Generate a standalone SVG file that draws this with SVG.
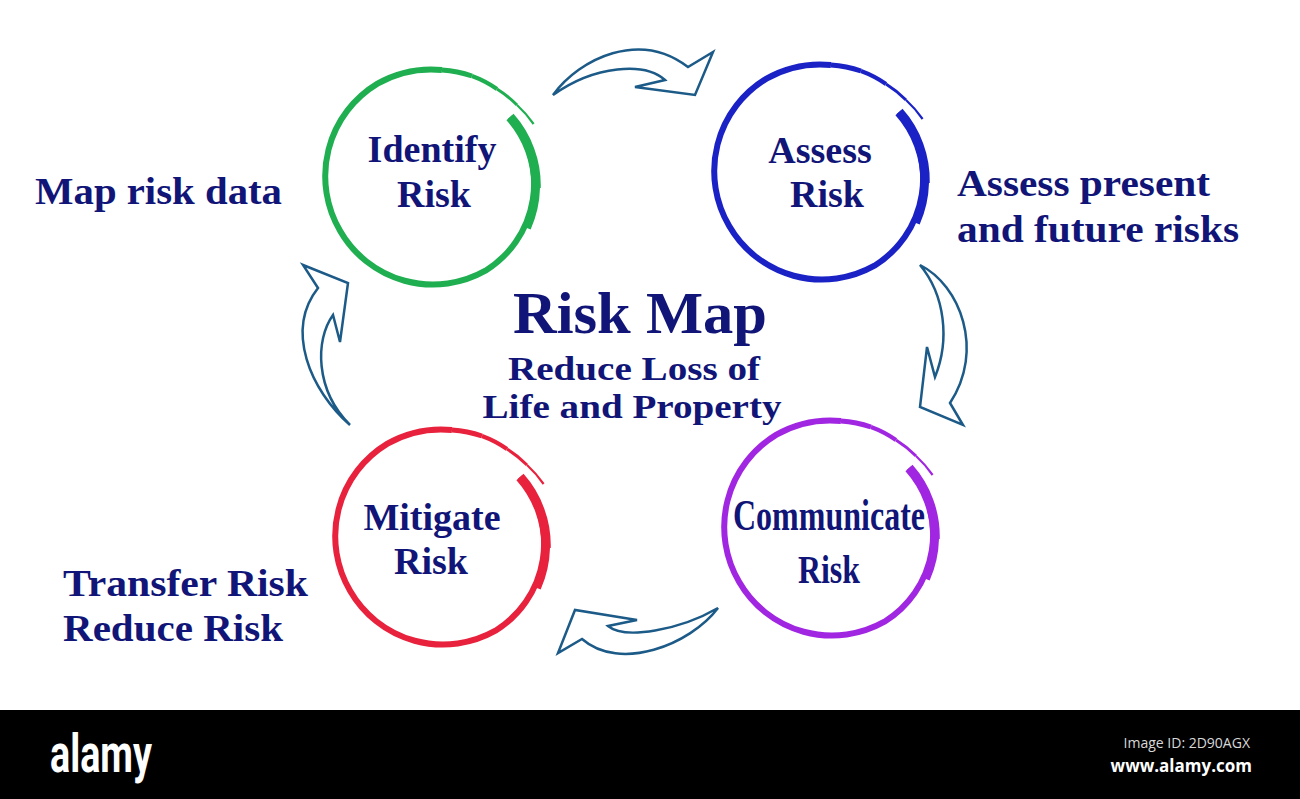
<svg xmlns="http://www.w3.org/2000/svg" xmlns:xlink="http://www.w3.org/1999/xlink" width="1300" height="799" viewBox="0 0 1300 799">
<style>
.lbl{font-family:"Liberation Serif","Times New Roman",serif;font-weight:bold;fill:#111577}
.c{text-anchor:middle}
.arr{fill:#ffffff;stroke:#1c5a88;stroke-width:2.5;stroke-linejoin:miter}
.ring{fill:none;stroke-linecap:butt}
</style>
<defs>
<g id="ring">
<path class="ring" stroke-width="6" d="M78,-61 A103,103 0 0 1 53.5,92.7 A107,107 0 0 1 -91.8,53 A108,108 0 0 1 -54.5,-94.4 A110,110 0 0 1 10,-108"/>
<path class="ring" stroke-width="5" d="M10,-108 A110,110 0 0 1 40,-102"/>
<path class="ring" stroke-width="4" d="M40,-102 A111,111 0 0 1 65,-89"/>
<path class="ring" stroke-width="3" d="M65,-89 A113,113 0 0 1 85,-73"/>
<path class="ring" stroke-width="2.2" d="M85,-73 A114,114 0 0 1 101.6,-54"/>
<path class="ring" stroke-width="9.5" d="M78,-61 A103,103 0 0 1 104,10"/>
<path class="ring" stroke-width="8" d="M104,10 A105,105 0 0 1 95,50"/>
</g>
</defs>
<rect width="1300" height="799" fill="#ffffff"/>
<g id="connectors">
<path class="arr" d="M553,95 C580,58 640,30 688,67 L713,52 L695,95 L635,87 L665,80 C645,62 595,65 553,95 Z"/>
<path class="arr" d="M920,265 C960,285 985,350 950,403 L963,425 L920,407 L927,347 L935,377 C950,340 945,295 920,265 Z"/>
<path class="arr" d="M718,608 C690,645 620,672 582,639 L558,653 L575,610 L637,620 L608,626 C625,640 680,630 718,608 Z"/>
<path class="arr" d="M350,425 C310,390 285,330 318,288 L303,265 L348,283 L340,342 L333,315 C315,340 315,390 350,425 Z"/>
</g>
<g id="identify">
<use xlink:href="#ring" href="#ring" transform="translate(432,178)" stroke="#1fae50"/>
<text class="lbl c" x="432" y="162" font-size="38">Identify</text>
<text class="lbl c" x="434" y="207" font-size="38">Risk</text>
</g>
<g id="assess">
<use xlink:href="#ring" href="#ring" transform="translate(821,173)" stroke="#1a22c6"/>
<text class="lbl c" x="820" y="163" font-size="38">Assess</text>
<text class="lbl c" x="827" y="207" font-size="38">Risk</text>
</g>
<g id="mitigate">
<use xlink:href="#ring" href="#ring" transform="translate(442,538)" stroke="#e8213c"/>
<text class="lbl c" x="432" y="530" font-size="38">Mitigate</text>
<text class="lbl c" x="431" y="574" font-size="38">Risk</text>
</g>
<g id="communicate">
<use xlink:href="#ring" href="#ring" transform="translate(831,529)" stroke="#a126e2"/>
<text class="lbl c" x="829" y="530" font-size="45" textLength="192" lengthAdjust="spacingAndGlyphs">Communicate</text>
<text class="lbl c" x="829" y="583" font-size="40" textLength="62" lengthAdjust="spacingAndGlyphs">Risk</text>
</g>
<g id="center">
<text class="lbl c" x="640" y="333" font-size="60" textLength="254" lengthAdjust="spacingAndGlyphs">Risk Map</text>
<text class="lbl c" x="634" y="380" font-size="34" textLength="252" lengthAdjust="spacingAndGlyphs">Reduce Loss of</text>
<text class="lbl c" x="632" y="418" font-size="34" textLength="299" lengthAdjust="spacingAndGlyphs">Life and Property</text>
</g>
<g id="side-labels">
<text class="lbl" x="35" y="204" font-size="38" textLength="247" lengthAdjust="spacingAndGlyphs">Map risk data</text>
<text class="lbl" x="957" y="196" font-size="38" textLength="253" lengthAdjust="spacingAndGlyphs">Assess present</text>
<text class="lbl" x="957" y="242" font-size="38" textLength="282" lengthAdjust="spacingAndGlyphs">and future risks</text>
<text class="lbl" x="63" y="596" font-size="38" textLength="245" lengthAdjust="spacingAndGlyphs">Transfer Risk</text>
<text class="lbl" x="63" y="641" font-size="38" textLength="220" lengthAdjust="spacingAndGlyphs">Reduce Risk</text>
</g>
<g id="footer">
<rect x="0" y="710" width="1300" height="89" fill="#000000"/>
<text x="50" y="772" font-family="Roboto,'Open Sans',sans-serif" font-weight="bold" font-size="54" fill="#ffffff" textLength="102" lengthAdjust="spacingAndGlyphs">alamy</text>
<text x="1250" y="748" font-family="'Open Sans',Roboto,sans-serif" font-size="14" fill="#d8d8d8" text-anchor="end">Image ID: 2D90AGX</text>
<text x="1252" y="772" font-family="'Open Sans',Roboto,sans-serif" font-weight="bold" font-size="17" fill="#ffffff" text-anchor="end">www.alamy.com</text>
</g>
</svg>
